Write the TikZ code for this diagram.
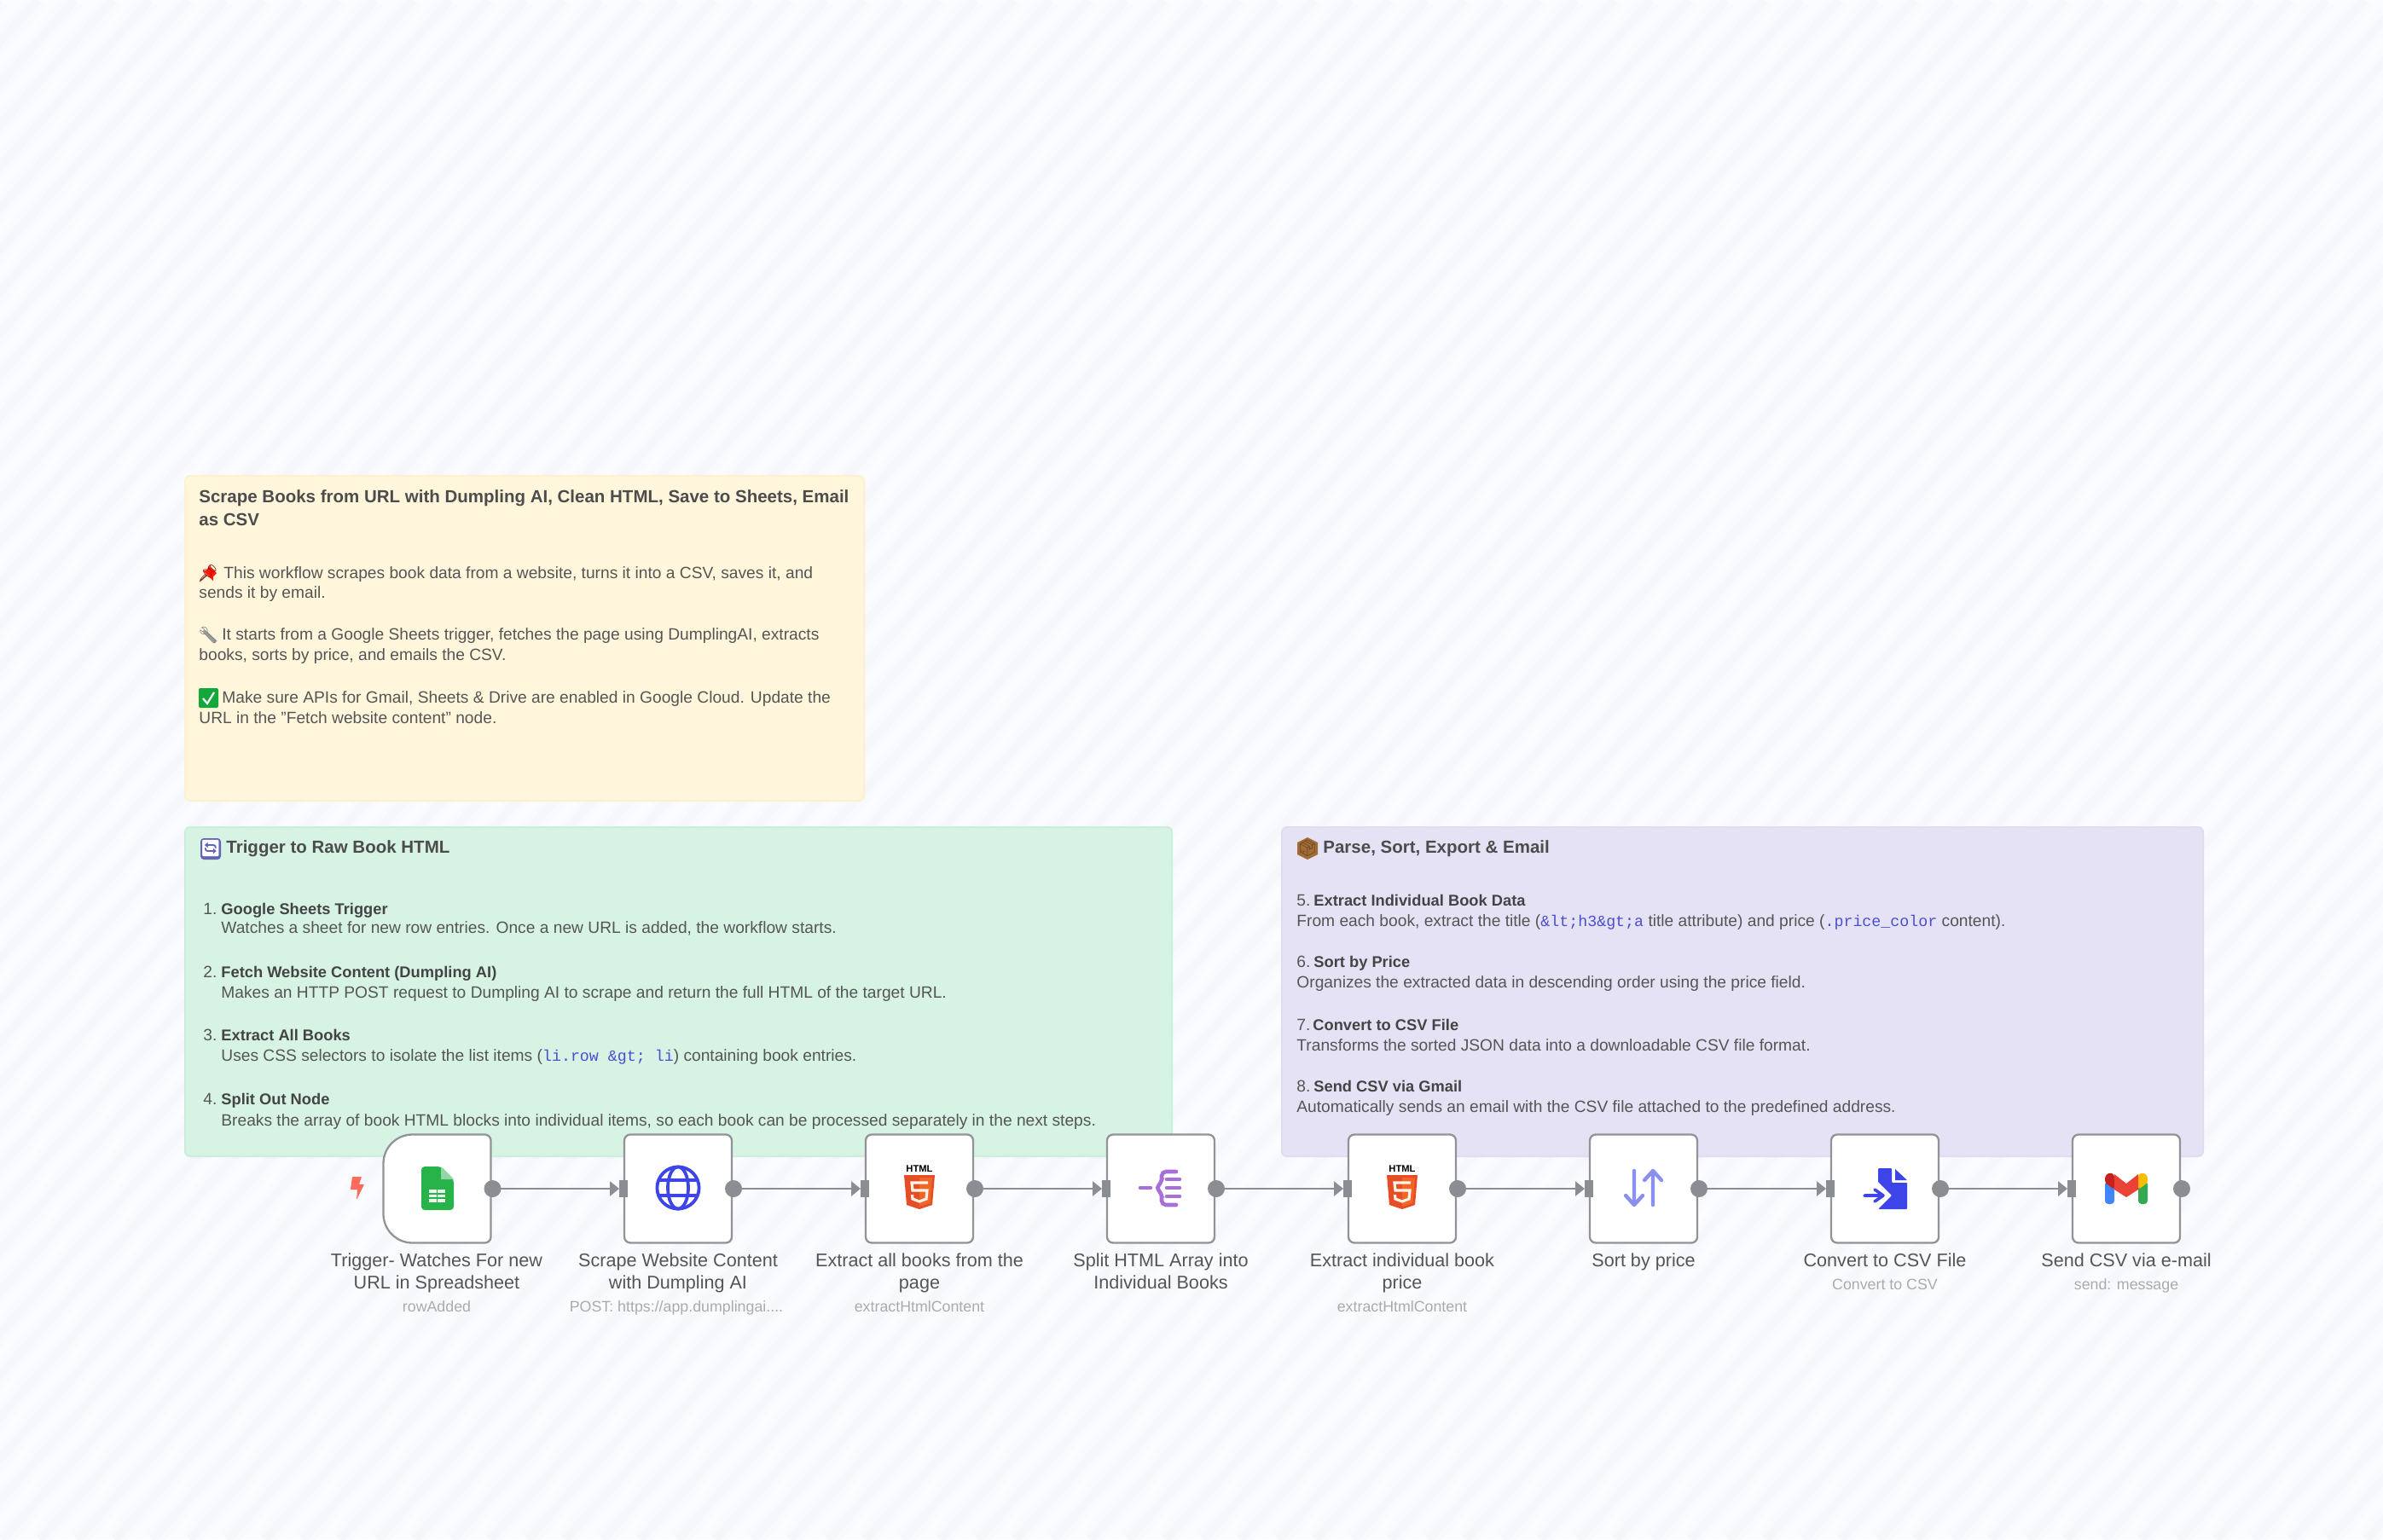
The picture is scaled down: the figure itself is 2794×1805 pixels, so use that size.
\documentclass[tikz,border=0pt]{standalone}
\usepackage{fontspec}
\setmainfont{Liberation Sans}
\setmonofont{Liberation Mono}
\newfontfamily\emojifont{Noto Emoji}
\usetikzlibrary{arrows.meta,calc}
\definecolor{bgA}{HTML}{FBFCFF}
\definecolor{bgB}{HTML}{F9FAFD}
\definecolor{bgC}{HTML}{F6F7FB}
\definecolor{noteY}{HTML}{FFF6DC}
\definecolor{noteG}{HTML}{D6F3E4}
\definecolor{noteP}{HTML}{E4E2F4}
\definecolor{edgeY}{HTML}{FDF1CF}
\definecolor{edgeG}{HTML}{CAEEDB}
\definecolor{edgeP}{HTML}{DEDCF0}
\definecolor{ink}{HTML}{555555}
\definecolor{codec}{HTML}{4A4FD0}
\definecolor{port}{HTML}{8A8D91}
\definecolor{frame}{HTML}{919396}
\definecolor{subc}{HTML}{ABABAB}
\definecolor{gsg}{HTML}{27B24A}
\definecolor{ico}{HTML}{3D45E8}
\definecolor{html}{HTML}{E44D26}
\definecolor{htmlb}{HTML}{F16529}
\definecolor{splitc}{HTML}{A86FD8}
\definecolor{sortc}{HTML}{8A90F0}
\definecolor{boltc}{HTML}{FF6D5A}
\definecolor{checkg}{HTML}{14A83C}
\definecolor{gmB}{HTML}{4285F4}
\definecolor{gmG}{HTML}{34A853}
\definecolor{gmY}{HTML}{FBBC04}
\definecolor{gmR}{HTML}{EA4335}
\definecolor{gmD}{HTML}{C5221F}
\newcommand{\tfont}{\fontsize{10.25}{14}\selectfont\bfseries}
\newcommand{\bfont}{\fontsize{9.6}{12}\selectfont}
\newcommand{\bbfont}{\fontsize{9.15}{12}\selectfont\bfseries}
\newcommand{\cfont}{\fontsize{9.15}{12}\selectfont\ttfamily}
\newcommand{\lfont}{\fontsize{10.8}{13}\selectfont}
\newcommand{\sfont}{\fontsize{8.9}{12}\selectfont}
\tikzset{
  x=0.5pt,y=-0.5pt,
  txt/.style={anchor=west,inner sep=0pt,text=ink,font=\bfont,text height=7pt,text depth=2pt,yshift=-0.6pt},
  btxt/.style={txt,font=\bbfont,text=ink!80!black},
  ttl/.style={anchor=west,inner sep=0pt,text=ink!90!black,font=\tfont,text height=7.5pt,text depth=2.5pt,yshift=-0.6pt},
  emo/.style={anchor=center,inner sep=0pt,font=\fontsize{9.5}{12}\emojifont},
  note/.style={rounded corners=3pt,line width=1pt},
  wf/.style={minimum width=63pt,minimum height=63.5pt,inner sep=0pt,outer sep=0pt},
  box/.style={wf,draw=frame,line width=1.15pt,fill=white,rounded corners=3.5pt},
  dot/.style={circle,fill=port,minimum size=10pt,inner sep=0pt,xshift=1pt},
  inport/.style={fill=port,minimum width=5pt,minimum height=10pt,inner sep=0pt,anchor=center,xshift=-0.5pt},
  link/.style={draw=port,line width=1.4pt,-{Triangle[length=5.5pt,width=8.5pt]},shorten >=3pt},
  lab/.style={inner sep=0pt,text=ink,font=\lfont,anchor=center,text height=7.8pt,text depth=2.4pt,yshift=-0.8pt},
  sub/.style={inner sep=0pt,text=subc,font=\sfont,anchor=center,text height=6.5pt,text depth=2pt,yshift=-0.8pt},
}
\begin{document}
\begin{tikzpicture}
\useasboundingbox (0,0) rectangle (2794,1805);
% background
\fill[bgA] (0,0) rectangle (2794,1805);
\begin{scope}
\clip (0,0) rectangle (2794,1805);
\foreach \k in {-1,...,110}{
  \draw[bgB,line width=11pt] ({\k*44},0) -- ({\k*44-1625},1805);
  \draw[bgC,line width=5pt] ({\k*44},0) -- ({\k*44-1625},1805);
}
\end{scope}
% notes
\draw[note,fill=noteY,draw=edgeY] (217,558) rectangle (1013,939);
\draw[note,fill=noteG,draw=edgeG] (217,970) rectangle (1374,1356);
\draw[note,fill=noteP,draw=edgeP] (1503,970) rectangle (2583,1356);
% yellow note text
\node[ttl] (y1) at (233,583) {Scrape Books from URL with Dumpling AI, Clean HTML, Save to Sheets, Email};
\node[ttl] (y2) at (233,610) {as CSV};
\fill[red!80!orange] (245,664) -- (254,672) -- (250,676) -- (250,681) -- (238,669) -- (242,669) -- cycle;
\draw[gray,line width=0.8pt] (234,682) -- (243,674);
\node[emo,text=red!60!black] (e1) at (244,672) {\symbol{"1F4CC}};
\node[txt] (y3) at (262,672) {This workflow scrapes book data from a website, turns it into a CSV, saves it, and};
\node[txt] (y4) at (233,695) {sends it by email.};
\draw[gray!80,line width=2pt] (239,740) -- (253,753);
\node[emo,text=gray] (e2) at (244,745) {\symbol{"1F527}};
\node[txt] (y5) at (260,744) {It starts from a Google Sheets trigger, fetches the page using DumplingAI, extracts};
\node[txt] (y6) at (233,768) {books, sorts by price, and emails the CSV.};
\fill[rounded corners=1pt,checkg] (233,807) rectangle (256,830);
\node[emo,text=checkg] (e3) at (244.5,818) {\symbol{"2705}};
\draw[white,line width=1.1pt] (238,819) -- (243,825) -- (251,812);
\node[txt] (y7) at (260,818) {Make sure APIs for Gmail, Sheets \& Drive are enabled in Google Cloud. Update the};
\node[txt] (y8) at (233,842) {URL in the "Fetch website content" node.};
% green note text
\fill[rounded corners=2pt,blue!35!gray!90] (235,983) rectangle (259,1008);
\node[emo,text=white] (e4) at (247,995) {\symbol{"1F504}};
\node[ttl] (g0) at (265,994) {Trigger to Raw Book HTML};
\node[txt] at (238,1066) {1.};
\node[btxt] (g1) at (259,1066) {Google Sheets Trigger};
\node[txt] (g1b) at (259,1088) {Watches a sheet for new row entries. Once a new URL is added, the workflow starts.};
\node[txt] at (238,1140) {2.};
\node[btxt] (g2) at (259,1140) {Fetch Website Content (Dumpling AI)};
\node[txt] (g2b) at (259,1164) {Makes an HTTP POST request to Dumpling AI to scrape and return the full HTML of the target URL.};
\node[txt] at (238,1214) {3.};
\node[btxt] (g3) at (259,1214) {Extract All Books};
\node[txt] (g3b) at (259,1238) {Uses CSS selectors to isolate the list items ({\cfont\color{codec}li.row \&gt; li}) containing book entries.};
\node[txt] at (238,1289) {4.};
\node[btxt] (g4) at (259,1289) {Split Out Node};
\node[txt] (g4b) at (259,1314) {Breaks the array of book HTML blocks into individual items, so each book can be processed separately in the next steps.};
% purple note text
\fill[brown!85!black] (1533,982) -- (1545,988) -- (1545,1002) -- (1533,1008) -- (1521,1002) -- (1521,988) -- cycle;
\node[emo,text=brown!55!black] (e5) at (1533,995) {\symbol{"1F4E6}};
\node[ttl] (p0) at (1551,994) {Parse, Sort, Export \& Email};
\node[txt] at (1520,1056) {5.};
\node[btxt] (p1) at (1540,1056) {Extract Individual Book Data};
\node[txt] (p1b) at (1520,1080) {From each book, extract the title ({\cfont\color{codec}\&lt;h3\&gt;a} title attribute) and price ({\cfont\color{codec}.price\_color} content).};
\node[txt] at (1520,1128) {6.};
\node[btxt] (p2) at (1540,1128) {Sort by Price};
\node[txt] (p2b) at (1520,1152) {Organizes the extracted data in descending order using the price field.};
\node[txt] at (1520,1202) {7.};
\node[btxt] (p3) at (1539,1202) {Convert to CSV File};
\node[txt] (p3b) at (1520,1226) {Transforms the sorted JSON data into a downloadable CSV file format.};
\node[txt] at (1520,1274) {8.};
\node[btxt] (p4) at (1540,1274) {Send CSV via Gmail};
\node[txt] (p4b) at (1520,1298) {Automatically sends an email with the CSV file attached to the predefined address.};
% workflow nodes
\node[wf,draw=none] (n1) at (512.5,1394) {};
\draw[frame,line width=1.15pt,fill=white] (n1.north east) [rounded corners=3.5pt] -- (n1.south east) [rounded corners=17pt] -- (n1.south west) -- (n1.north west) [rounded corners=3.5pt] -- cycle;
\foreach \n/\cx in {n2/795,n3/1078,n4/1361,n5/1644,n6/1927,n7/2210,n8/2493}{
  \node[box] (\n) at (\cx,1394) {};
}
\foreach \a/\b in {n1/n2,n2/n3,n3/n4,n4/n5,n5/n6,n6/n7,n7/n8}{
  \draw[link] (\a.east) -- (\b.west);
  \node[inport] at (\b.west) {};
}
\foreach \n in {n1,n2,n3,n4,n5,n6,n7,n8}{\node[dot] at (\n.east) {};}
% bolt
\fill[boltc,rounded corners=0.3pt] (413,1380) -- (424,1380) -- (421,1389) -- (427,1389) -- (418,1407) -- (419,1395) -- (411,1395) -- cycle;
% sheets icon
\fill[gsg,rounded corners=2pt] (494,1368) -- (517,1368) -- (532,1383) -- (532,1419) -- (494,1419) -- cycle;
\fill[gsg!50!white] (517,1368) -- (532,1383) -- (517,1383) -- cycle;
\fill[white!90!gsg] (503,1395) rectangle (522,1410);
\draw[gsg,line width=0.6pt] (503,1400) -- (522,1400) (503,1405) -- (522,1405) (512.5,1395) -- (512.5,1410);
% globe icon
\begin{scope}[shift={(795,1393)},ico,line width=1.9pt]
\draw (0,0) circle (12.3pt);
\draw (0,0) ellipse (6pt and 12.3pt);
\draw (-22,-9) -- (22,-9) (-22,9) -- (22,9);
\end{scope}
% html icons
\foreach \cx in {1078,1644}{
\begin{scope}[shift={(\cx,1393)}]
\node[inner sep=0pt,font=\fontsize{5.6}{6}\selectfont\bfseries,text=black] at (0,-22) {HTML};
\fill[html] (-18,-15) -- (18,-15) -- (15,20) -- (0,25) -- (-15,20) -- cycle;
\fill[htmlb] (0,-12) -- (15,-12) -- (12.5,18) -- (0,22) -- cycle;
\draw[white!90!orange,line width=1.6pt] (10,-6) -- (-9,-6) -- (-8,3) -- (9,3) -- (8,13) -- (0,16) -- (-8,13) -- (-8.5,8);
\end{scope}
}
% split icon
\begin{scope}[splitc,line width=2.3pt,line cap=round]
\draw (1337,1393) -- (1349,1393);
\draw[rounded corners=2.5pt] (1379,1374) -- (1362,1374) -- (1362,1387) -- (1355,1393) -- (1362,1399) -- (1362,1413) -- (1379,1413);
\draw (1368,1383) -- (1383,1383) (1368,1393) -- (1383,1393) (1368,1403) -- (1383,1403);
\end{scope}
% sort icon
\begin{scope}[shift={(1927,1393)},sortc,line width=2.2pt,line cap=round,line join=round]
\draw (-11,-20) -- (-11,20) (-21,9) -- (-11,20) -- (-1,9);
\draw (11,20) -- (11,-20) (1,-9) -- (11,-20) -- (21,-9);
\end{scope}
% csv icon
\fill[ico,rounded corners=0.5pt] (2202,1370) -- (2218,1370) -- (2218,1387) -- (2236,1387) -- (2236,1418) -- (2202,1418) -- (2218,1402) -- (2202,1386) -- cycle;
\fill[ico] (2222,1371) -- (2236,1384) -- (2222,1384) -- cycle;
\draw[ico,line width=1.8pt,line cap=round,line join=round] (2186,1402) -- (2208,1402) (2198,1395) -- (2208,1402) -- (2198,1409);
% gmail icon
\begin{scope}[shift={(2493,1393)}]
\fill[rounded corners=2pt,gmB] (-25,-8) rectangle (-14,19);
\fill[rounded corners=2pt,gmG] (14,-8) rectangle (25,19);
\fill[gmY,rounded corners=1.5pt] (14,-16) -- (20,-18) -- (25,-14) -- (25,-6) -- (14,2) -- cycle;
\fill[gmD,rounded corners=1.5pt] (-14,-16) -- (-20,-18) -- (-25,-14) -- (-25,-6) -- (-14,2) -- cycle;
\fill[gmR] (-14,-16) -- (0,-5) -- (14,-16) -- (14,2) -- (0,11) -- (-14,2) -- cycle;
\end{scope}
% labels
\node[lab] at (512,1478) {Trigger- Watches For new};
\node[lab] at (512,1504) {URL in Spreadsheet};
\node[sub] at (512,1532) {rowAdded};
\node[lab] at (795,1478) {Scrape Website Content};
\node[lab] at (795,1504) {with Dumpling AI};
\node[sub] at (793,1532) {POST: https://app.dumplingai....};
\node[lab] at (1078,1478) {Extract all books from the};
\node[lab] at (1078,1504) {page};
\node[sub] at (1078,1532) {extractHtmlContent};
\node[lab] at (1361,1478) {Split HTML Array into};
\node[lab] at (1361,1504) {Individual Books};
\node[lab] at (1644,1478) {Extract individual book};
\node[lab] at (1644,1504) {price};
\node[sub] at (1644,1532) {extractHtmlContent};
\node[lab] at (1927,1478) {Sort by price};
\node[lab] at (2210,1478) {Convert to CSV File};
\node[sub] at (2210,1506) {Convert to CSV};
\node[lab] at (2493,1478) {Send CSV via e-mail};
\node[sub] at (2493,1506) {send: message};
\end{tikzpicture}
\end{document}
